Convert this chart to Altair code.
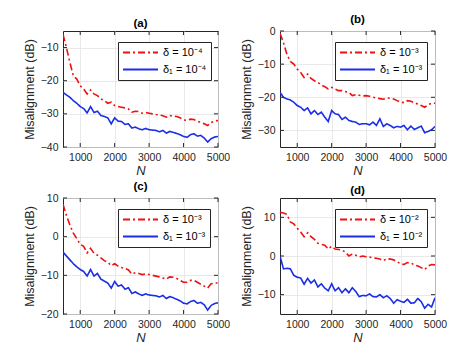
import altair as alt
import pandas as pd

N = list(range(500, 5001, 100))

a_red = [-6, -10, -14.5, -18.5, -19.5, -21.5, -22.5, -24, -22.8, -24, -24.5, -25.5, -26, -26.8, -26.5, -27.5,
         -27.8, -28, -28.2, -28.5, -29.5, -29.2, -29.3, -29.8, -29.6, -29.8, -30, -30.2, -30.3, -30.6, -31,
         -30.5, -30.7, -30.8, -31.2, -31.8, -32, -31.6, -31.7, -32.3, -32.5, -33, -33.5, -32.6, -32.2, -32]
a_blue = [-23.5, -24.3, -25, -26, -26.8, -27.8, -28.4, -29.7, -27.8, -29.6, -29.2, -30.5, -30.8, -31.2, -33,
          -31.2, -32.2, -32.3, -33.2, -33, -34.3, -34, -34.5, -34.8, -34.4, -34.8, -34.9, -35, -35.4, -35,
          -35.8, -35.3, -35.6, -35.9, -36.3, -36.8, -37.1, -36.3, -36, -36.7, -36.5, -37.3, -38.5, -37.5,
          -37, -36.8]
b_red = [-0.7, -3.5, -7, -9.2, -10, -11.5, -12.5, -14, -13, -14.3, -15, -15.5, -16.3, -16.8, -17.5, -17,
         -17.5, -18, -18, -18.3, -18.5, -19.5, -19.2, -19.4, -19.6, -19.5, -19.7, -20, -20.2, -20.4, -20.6,
         -20.2, -20.3, -20.5, -21, -21.5, -21.6, -21, -21.2, -21.7, -22, -22.5, -23, -22.2, -21.8, -21.8]
b_blue = [-18.5, -20, -20.5, -20.8, -21.5, -22.5, -23, -24, -23.2, -25, -24, -25.2, -24.5, -26, -27.3, -24,
          -25, -25.2, -26.7, -26, -27, -27.3, -27.5, -28.2, -28, -28, -28.3, -27.5, -28.5, -26.5, -28.8, -28,
          -28.5, -29.2, -28.8, -29, -28.5, -29.8, -28.7, -29.7, -29.2, -28.7, -30.7, -30.3, -29.8, -28.8]
c_red = [8.4, 5.5, 3, 0.9, -0.5, -2, -2.5, -4.2, -3, -4.3, -4.8, -5.5, -6.2, -6.6, -7.5, -7, -7.6, -8, -8.2,
         -8.6, -9.7, -9.3, -9.5, -9.8, -9.6, -9.8, -10, -10.2, -10.4, -10.7, -11, -10.4, -10.5, -10.8, -11.3,
         -11.8, -11.8, -11.3, -11.3, -11.8, -12.3, -12.8, -13.3, -12.2, -12, -12]
c_blue = [-4, -5, -6, -7, -7.8, -8.5, -9, -10.2, -8.5, -10.2, -9.5, -11, -11.5, -12, -13.3, -11.6, -12.8,
          -12.5, -13.6, -13.2, -14.7, -14.3, -14.8, -15.2, -14.8, -15.1, -15.2, -15.3, -15.6, -15.2, -16,
          -15.5, -15.8, -16.2, -16.6, -17.2, -17.4, -16.8, -16.5, -17.2, -17, -17.6, -19, -17.8, -17.3, -17.1]
d_red = [11.3, 11.1, 10.8, 8.8, 8.3, 7.2, 6.2, 5, 6, 5, 4.3, 3.3, 3, 2.8, 1.8, 2.5, 1.8, 1.7, 1.5, 1, 0, 0.5,
         0.2, -0.2, 0, -0.2, -0.3, -0.5, -0.6, -0.8, -1.2, -0.7, -0.8, -1, -1.5, -2, -2.2, -1.7, -1.8, -2.3,
         -2.6, -3, -3.5, -2.6, -2.2, -2.3]
d_blue = [0, -3.3, -3.2, -3.3, -5, -5.5, -5.7, -7.3, -5.8, -7, -6.2, -8, -7.2, -8.3, -9, -7.2, -9, -8.2,
          -9.5, -8.5, -9.5, -8.2, -9.2, -10.5, -10.2, -10.3, -9.8, -10.5, -10.6, -10, -10.8, -10.3, -11,
          -12.2, -11.3, -11.7, -12, -11.2, -12.2, -12.1, -11, -11.8, -13.5, -12.5, -13.2, -10.8]

panel_titles = ["(a)", "(b)", "(c)", "(d)"]
exponents = ["⁻⁴", "⁻³", "⁻³", "⁻²"]
y_domains = [[-40, -5], [-35, 0], [-20, 10], [-15, 15]]
y_ticks = [[-40, -30, -20, -10], [-30, -20, -10, 0], [-20, -10, 0, 10], [-10, 0, 10]]
x_ticks = [1000, 2000, 3000, 4000, 5000]

W, H = 155, 116
FONT = "Liberation Sans"
RED, BLUE = "#ee1111", "#1a2ee6"
FRAME = "#262626"


def panel(red, blue, exp, title, ydom, yt):
    lab_r = f"δ = 10{exp}"
    lab_b = f"δ₁ = 10{exp}"
    df = pd.DataFrame({"N": N + N, "val": red + blue,
                       "series": [lab_r] * len(N) + [lab_b] * len(N)})
    leg = alt.Legend(title=None, orient="none", legendX=55, legendY=11, fillColor="white",
                     strokeColor=FRAME, padding=4, symbolType="stroke", symbolSize=1225,
                     symbolStrokeWidth=2, clipHeight=13, rowPadding=4, labelFontSize=11,
                     labelFont=FONT, labelColor="black", labelOffset=4)
    xs = alt.Scale(domain=[500, 5000], nice=False, zero=False)
    ys = alt.Scale(domain=ydom, nice=False, zero=False)
    xaxis = alt.Axis(values=x_ticks, format="d", title="N", titleFontStyle="italic",
                     titleFontWeight="normal", titleFontSize=13, titlePadding=2, labelPadding=5,
                     labelOverlap=False, labelFlush=False)
    yaxis = alt.Axis(values=yt, title="Misalignment (dB)", titleFontWeight="normal",
                     titleFontSize=12.5, titlePadding=4, labelPadding=5, labelOverlap=False,
                     labelFlush=False)
    X = alt.X("N:Q", scale=xs, axis=xaxis)
    Y = alt.Y("val:Q", scale=ys, axis=yaxis)
    lines = alt.Chart(df).mark_line(strokeWidth=1.6, clip=True).encode(
        x=X, y=Y,
        color=alt.Color("series:N", scale=alt.Scale(domain=[lab_r, lab_b], range=[RED, BLUE]),
                        legend=leg),
        strokeDash=alt.StrokeDash("series:N", scale=alt.Scale(domain=[lab_r, lab_b],
                                                              range=[[7, 3, 2, 3], [1, 0]]),
                                  legend=leg),
    )
    xt = pd.DataFrame({"N": x_ticks})
    ytd = pd.DataFrame({"val": yt})
    tick_style = dict(color=FRAME, strokeWidth=1)
    bot = alt.Chart(xt).mark_rule(**tick_style).encode(x=X, y=alt.value(H), y2=alt.value(H - 4))
    top = alt.Chart(xt).mark_rule(**tick_style).encode(x=X, y=alt.value(0), y2=alt.value(4))
    left = alt.Chart(ytd).mark_rule(**tick_style).encode(y=Y, x=alt.value(0), x2=alt.value(4))
    right = alt.Chart(ytd).mark_rule(**tick_style).encode(y=Y, x=alt.value(W), x2=alt.value(W - 4))
    return alt.layer(lines, bot, top, left, right).properties(
        width=W, height=H,
        title=alt.Title(title, fontSize=11.5, fontWeight="bold", font=FONT, offset=1,
                        anchor="middle", color="black"),
    )


panels = [panel(r, b, e, t, d, yt) for r, b, e, t, d, yt in
          zip([a_red, b_red, c_red, d_red], [a_blue, b_blue, c_blue, d_blue], exponents,
              panel_titles, y_domains, y_ticks)]

row1 = alt.hconcat(panels[0], panels[1], spacing=8).resolve_scale(color="independent",
                                                                 strokeDash="independent")
row2 = alt.hconcat(panels[2], panels[3], spacing=8).resolve_scale(color="independent",
                                                                 strokeDash="independent")
chart = alt.vconcat(row1, row2, spacing=2).resolve_scale(
    color="independent", strokeDash="independent"
).properties(
    padding={"left": 14, "top": 5, "right": 5, "bottom": 2}
).configure_view(
    stroke=FRAME, strokeWidth=1
).configure_axis(
    labelFont=FONT, titleFont=FONT, labelFontSize=10.5, labelColor="#262626", titleColor="#262626",
    grid=True, gridColor="#e3e3e3", gridWidth=0.8, ticks=False, tickSize=0, domain=False,
)

chart.save("out.html", embed_options={"renderer": "svg", "actions": False})
